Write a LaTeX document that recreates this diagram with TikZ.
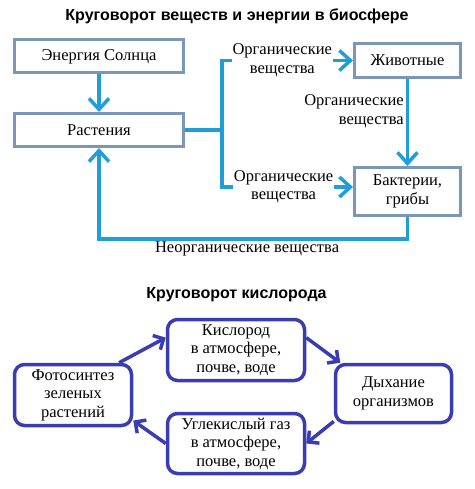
\documentclass[tikz,border=0pt]{standalone}
\usepackage{fontspec}
\setmainfont{Liberation Serif}
\newfontfamily\titlefont{Liberation Sans}
\usetikzlibrary{arrows.meta}
\definecolor{boxgray}{RGB}{122,150,184}
\definecolor{flowblue}{RGB}{32,158,218}
\definecolor{cycleblue}{RGB}{58,60,178}
\tikzset{
  heading/.style={font=\titlefont\bfseries\fontsize{16}{19}\selectfont},
  boxtext/.style={font=\fontsize{16.5}{18.5}\selectfont, align=center},
  topbox/.style={boxtext, draw=boxgray, line width=3pt, fill=white, inner sep=0pt},
  cyclebox/.style={boxtext, draw=cycleblue, line width=3.5pt, rounded corners=10pt, inner sep=0pt},
  flowline/.style={draw=flowblue, line width=3.5pt},
  flowarrow/.style={flowline, -{Straight Barb[length=11pt,width=20pt]}},
  flowlabel/.style={boxtext, fill=white, inner sep=1pt},
  cyclearrow/.style={draw=cycleblue, line width=3.5pt, -{Straight Barb[length=8pt,width=16pt]}}
}
\begin{document}
\begin{tikzpicture}[x=1pt,y=-1pt]
  \useasboundingbox (0,0) rectangle (474,489);
  % biosphere
  \node[heading] (title1) at (237,16) {Круговорот веществ и энергии в биосфере};
  \node[topbox, minimum width=169pt, minimum height=33pt] (sun) at (99,56.5) {Энергия Солнца};
  \node[topbox, minimum width=169pt, minimum height=33pt] (plant) at (99,130) {Растения};
  \node[topbox, minimum width=106pt, minimum height=34pt] (animals) at (407.5,60.5) {Животные};
  \node[topbox, minimum width=106pt, minimum height=48pt] (decomp) at (407.5,191.5) {Бактерии,\\грибы};
  \coordinate (fork) at (222,130);
  \draw[flowarrow] (sun) -- (plant);
  \draw[flowline] (plant.east) -- (fork);
  \draw[flowarrow] (fork) |- (animals.west)
      node[pos=0.73, flowlabel] (org1) {Органические\\вещества};
  \draw[flowarrow] (fork) |- ([yshift=4.5pt]decomp.west)
      node[pos=0.735, flowlabel] (org3) {Органические\\вещества};
  \draw[flowarrow] (animals) -- (decomp)
      node[pos=0.37, boxtext, anchor=east, align=right, inner sep=2pt] (org2) {Органические\\вещества};
  \draw[flowarrow] (decomp.south) -- ++(0,22) -| (plant.south)
      node[pos=0.26, boxtext, anchor=north, inner sep=1pt] (inorg) {Неорганические вещества};
  % oxygen
  \node[heading] (title2) at (236.5,295) {Круговорот кислорода};
  \node[cyclebox, minimum width=137pt, minimum height=61pt] (oxygen) at (236,350) {Кислород\\в атмосфере,\\почве, воде};
  \node[cyclebox, minimum width=117pt, minimum height=61pt] (photo) at (73,395) {Фотосинтез\\зеленых\\растений};
  \node[cyclebox, minimum width=116pt, minimum height=58pt] (breath) at (393.5,393.5) {Дыхание\\организмов};
  \node[cyclebox, minimum width=137pt, minimum height=60pt] (carbon) at (236,443.5) {Углекислый газ\\в атмосфере,\\почве, воде};
  \draw[cyclearrow] (photo.35) -- (oxygen.170);
  \draw[cyclearrow] (oxygen.10) -- (breath.150);
  \draw[cyclearrow] (breath.205) -- (carbon.east);
  \draw[cyclearrow] (carbon.west) -- (photo.337);
\end{tikzpicture}
\end{document}
